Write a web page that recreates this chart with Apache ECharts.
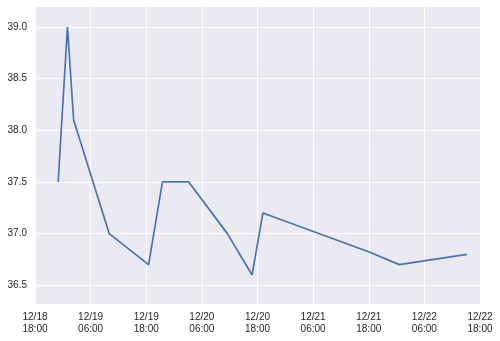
<!DOCTYPE html>
<html>
<head>
<meta charset="utf-8">
<script src="https://cdn.jsdelivr.net/npm/echarts@6/dist/echarts.min.js"></script>
<style>
html,body{margin:0;padding:0;background:#fff;}
#chart{width:500px;height:341px;}
</style>
</head>
<body>
<div id="chart"></div>
<script>
const times = ['12/18 23:00','12/19 01:00','12/19 02:20','12/19 10:00','12/19 18:30','12/19 21:30',
  '12/20 03:10','12/20 11:30','12/20 16:50','12/20 19:10','12/21 18:15','12/22 00:35','12/22 15:10'];
const values = [37.5, 39.0, 38.1, 37.0, 36.7, 37.5, 37.5, 37.0, 36.6, 37.2, 36.82, 36.7, 36.8];
const axisStart = '12/18 18:00';
const axisEnd = '12/22 18:00';
const tickStepHours = 12;
const yMin = 36.314, yMax = 39.203;

function toMs(s){
  const [md, hm] = s.split(' ');
  const [mo, d] = md.split('/').map(Number);
  const [h, mi] = hm.split(':').map(Number);
  return Date.UTC(2020, mo-1, d, h, mi);
}
const t0 = toMs(axisStart);
const hoursOf = s => (toMs(s) - t0) / 3600000;
const pad = n => String(n).padStart(2,'0');
function labelOf(hours){
  const dt = new Date(t0 + hours*3600000);
  return pad(dt.getUTCMonth()+1) + '/' + pad(dt.getUTCDate()) + '\n' + pad(dt.getUTCHours()) + ':' + pad(dt.getUTCMinutes());
}
const data = times.map((t,i) => [hoursOf(t), values[i]]);

const chart = echarts.init(document.getElementById('chart'), null, {renderer:'canvas'});
const fontFamily = 'Liberation Sans, Arial, sans-serif';
chart.setOption({
  animation: false,
  grid: {left: 35, right: 20, top: 6, bottom: 36.5, show: true, backgroundColor: '#EAEAF2', borderWidth: 0},
  xAxis: {
    type: 'value', min: 0, max: hoursOf(axisEnd), interval: tickStepHours,
    axisLine: {show: false}, axisTick: {show: false},
    splitLine: {show: true, lineStyle: {color: '#ffffff', width: 1}},
    axisLabel: {formatter: v => labelOf(v), color: '#262626', fontSize: 10, fontFamily, margin: 7, lineHeight: 12}
  },
  yAxis: {
    type: 'value', min: yMin, max: yMax, scale: true,
    axisLine: {show: false}, axisTick: {show: false},
    splitLine: {show: true, lineStyle: {color: '#ffffff', width: 1}},
    axisLabel: {formatter: v => v.toFixed(1), color: '#262626', fontSize: 10, fontFamily, margin: 8, showMinLabel: false, showMaxLabel: false}
  },
  series: [{
    type: 'line', data, showSymbol: false, symbol: 'none',
    lineStyle: {color: '#4C72B0', width: 1.7}
  }]
});
</script>
</body>
</html>
